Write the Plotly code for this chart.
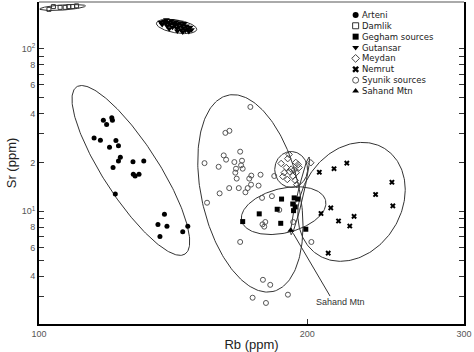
import numpy as np
import plotly.graph_objects as go

# ---------------- data (Rb ppm, Sr ppm) ----------------
arteni_rb = [118.1, 120.7, 120.9, 119.1, 115.3, 117.2, 122.0, 120.0, 122.8, 123.4, 122.8, 121.1,
             127.5, 131.1, 127.6, 128.2, 129.5, 121.8, 138.3, 136.0, 139.2, 136.7, 145.0, 146.9]
arteni_sr = [36.3, 37.7, 36.3, 34.2, 28.3, 27.4, 27.3, 24.8, 25.3, 21.5, 20.4, 18.6,
             20.2, 20.4, 16.9, 16.5, 16.9, 12.8, 9.6, 8.3, 8.1, 7.0, 7.5, 8.1]

damlik_rb = [102.6, 103.8, 105.6, 107.0, 108.0, 109.1, 110.2]
damlik_sr = [175, 182, 180, 180, 182, 182, 184]

gegham_rb = [187.2, 193.4, 195.2, 192.7, 193.9, 193.1, 185.1, 176.7, 169.3, 186.8, 199.3]
gegham_sr = [11.9, 12.1, 11.9, 11.1, 10.65, 10.1, 10.3, 9.65, 8.65, 8.44, 7.76]

gutansar_rb = [137.0, 137.5, 138.2, 138.8, 139.3, 139.8, 140.3, 140.8, 141.2, 141.6, 142.0, 142.4,
               142.8, 143.2, 143.6, 144.0, 144.4, 144.8, 145.2, 145.6, 146.0, 146.4, 146.8, 147.3,
               147.8, 148.3, 140.0, 143.0, 139.0, 145.0]
gutansar_sr = [146, 141, 148, 143, 138, 146, 141, 149, 136, 144, 139, 147,
               134, 142, 137, 145, 131, 140, 135, 143, 130, 138, 133, 128,
               136, 131, 133, 129, 151, 127]

meydan_rb = [190.9, 190.2, 194.2, 187.0, 195.4, 189.5, 191.9, 193.4, 188.5, 191.2, 194.4, 187.8,
             192.7, 190.0, 193.9, 194.7, 195.9, 201.9]
meydan_sr = [22.4, 21.1, 20.0, 19.7, 19.4, 18.6, 18.2, 18.0, 17.3, 17.5, 17.3, 16.4,
             16.5, 15.7, 15.5, 14.6, 18.6, 19.9]

nemrut_rb = [221.6, 214.4, 206.4, 249.0, 238.7, 249.6, 212.6, 225.8, 216.9, 223.3, 211.2, 207.3]
nemrut_sr = [19.8, 18.3, 17.4, 15.1, 12.7, 10.8, 10.5, 9.32, 8.72, 8.12, 5.53, 9.7]

syunik_rb = [172.7, 161.9, 163.6, 168.2, 161.2, 162.2, 153.4, 159.1, 165.7, 169.0, 166.4, 168.6,
             169.3, 166.1, 166.7, 172.2, 173.1, 177.3, 176.4, 173.0, 171.5, 170.5, 167.6, 163.5,
             159.5, 154.4, 178.0, 182.6, 186.1, 179.5, 178.2, 179.0, 192.9, 168.2, 202.2, 183.7,
             178.4, 181.8, 190.3, 173.7, 179.8]
syunik_sr = [43.9, 30.4, 31.3, 23.3, 22.1, 20.8, 19.8, 18.8, 20.1, 20.5, 18.3, 19.2,
             18.3, 17.3, 15.9, 15.9, 16.6, 16.8, 14.4, 14.6, 13.9, 13.1, 13.9, 13.9,
             12.9, 11.3, 12.1, 12.4, 10.2, 8.60, 8.32, 8.05, 8.60, 6.48, 6.48, 16.5,
             3.79, 3.53, 3.07, 2.94, 2.73]

sahand_rb = [191.7]
sahand_sr = [7.65]

# group ellipses: centre Rb, centre Sr, semi-axes (screen units), rotation (deg)
ellipse_groups = {
    "Arteni":   (126.8, 17.85, 100, 27.5, 57),
    "Damlik":   (106.3, 179.7, 23, 2.6, -4),
    "Gutansar": (142.7, 137.4, 20.5, 6.5, 9),
    "Syunik":   (172.7, 12.9, 101, 49, 77),
    "Meydan":   (191.9, 18.1, 18, 16.5, 90),
    "Gegham":   (188.2, 10.1, 43.4, 22.3, -13.7),
    "Nemrut":   (224.3, 11.44, 63, 50, -58),
    "Sahand":   (196.4, 12.45, 40, 3, 103),
}

leader_rb = [192.9, 212.2]
leader_sr = [7.33, 3.01]
label_rb, label_sr = 218.1, 2.77

y_tickvals = [3, 4, 5, 6, 7, 8, 9, 10, 20, 30, 40, 50, 60, 70, 80, 90, 100]
y_ticktext = ["", "4", "", "6", "", "8", "", "10<sup>1</sup>", "2", "", "4", "", "6", "", "8", "",
              "10<sup>2</sup>"]
x_tickvals = [100, 200, 300]
x_ticktext = ["100", "200", "300"]

legend_names = ["Arteni", "Damlik", "Gegham sources", "Gutansar", "Meydan", "Nemrut",
                "Syunik sources", "Sahand Mtn"]

# ---------------- layout geometry ----------------
W, H = 474, 352
ML, MR, MT, MB = 39, 8, 2, 27
X_RANGE = [2.0, float(np.log10(300))]
Y_RANGE = [0.3067, 2.2883]
PW, PH = W - ML - MR, H - MT - MB
KX = PW / (X_RANGE[1] - X_RANGE[0])
KY = PH / (Y_RANGE[1] - Y_RANGE[0])


def ellipse(c_rb, c_sr, a, b, th, n=240):
    t = np.linspace(0, 2 * np.pi, n)
    r = np.radians(th)
    dx = a * np.cos(t) * np.cos(r) - b * np.sin(t) * np.sin(r)
    dy = a * np.cos(t) * np.sin(r) + b * np.sin(t) * np.cos(r)
    return 10 ** (np.log10(c_rb) + dx / KX), 10 ** (np.log10(c_sr) - dy / KY)


fig = go.Figure()

ELL_COLOR = "#333333"
for name, (crb, csr, a, b, th) in ellipse_groups.items():
    ex, ey = ellipse(crb, csr, a, b, th)
    fig.add_trace(go.Scatter(x=ex, y=ey, mode="lines",
                             line=dict(color=ELL_COLOR, width=1), hoverinfo="skip",
                             showlegend=False))

fig.add_trace(go.Scatter(x=leader_rb, y=leader_sr, mode="lines",
                         line=dict(color=ELL_COLOR, width=1), showlegend=False))

styles = {
    "Arteni": dict(symbol="circle", size=5, color="black", line=dict(width=0)),
    "Damlik": dict(symbol="square-open", size=4, color="#333", line=dict(width=1)),
    "Gegham sources": dict(symbol="square", size=5, color="black", line=dict(width=0)),
    "Gutansar": dict(symbol="triangle-down", size=6, color="black", line=dict(width=0)),
    "Meydan": dict(symbol="diamond-open", size=5, color="#444", line=dict(width=1)),
    "Nemrut": dict(symbol="x", size=5, color="black", line=dict(width=0)),
    "Syunik sources": dict(symbol="circle-open", size=5, color="#555", line=dict(width=1)),
    "Sahand Mtn": dict(symbol="triangle-up", size=6, color="black", line=dict(width=0)),
}

series = [
    ("Syunik sources", syunik_rb, syunik_sr),
    ("Meydan", meydan_rb, meydan_sr),
    ("Damlik", damlik_rb, damlik_sr),
    ("Gutansar", gutansar_rb, gutansar_sr),
    ("Arteni", arteni_rb, arteni_sr),
    ("Gegham sources", gegham_rb, gegham_sr),
    ("Nemrut", nemrut_rb, nemrut_sr),
    ("Sahand Mtn", sahand_rb, sahand_sr),
]
for name, xs, ys in series:
    fig.add_trace(go.Scatter(x=xs, y=ys, mode="markers", name=name,
                             marker=styles[name], showlegend=False))

# manual legend (compact spacing) on an overlay axis
leg_y0, leg_step = 0.960, 0.0338
leg_x = 0.745
for i, name in enumerate(legend_names):
    st = dict(styles[name])
    st["size"] = 6
    fig.add_trace(go.Scatter(x=[leg_x], y=[leg_y0 - i * leg_step], mode="markers",
                             marker=st, xaxis="x2", yaxis="y2", showlegend=False,
                             hoverinfo="skip"))
    fig.add_annotation(x=leg_x + 0.011, y=leg_y0 - i * leg_step, xref="x2", yref="y2",
                       text=name, showarrow=False, xanchor="left", yanchor="middle",
                       font=dict(family="DejaVu Sans", size=8.5, color="#222"))

fig.add_annotation(x=np.log10(label_rb), y=np.log10(label_sr), xref="x", yref="y",
                   text="Sahand Mtn", showarrow=False, xanchor="center", yanchor="middle",
                   font=dict(family="Liberation Sans", size=9, color="#333"))

# top border (light gray)
fig.add_shape(type="line", xref="paper", yref="paper", x0=0, x1=1, y0=1, y1=1,
              line=dict(color="#aaaaaa", width=2))

fig.update_layout(
    width=W, height=H,
    margin=dict(l=ML, r=MR, t=MT, b=MB),
    paper_bgcolor="white", plot_bgcolor="white",
    font=dict(family="Liberation Sans", size=9, color="#555"),
    xaxis=dict(type="log", range=X_RANGE, tickvals=x_tickvals, ticktext=x_ticktext,
               ticks="inside", ticklen=5, tickwidth=1, tickcolor="#333",
               showline=True, linecolor="black", linewidth=2, mirror=False,
               showgrid=False, zeroline=False,
               title=dict(text="Rb (ppm)", font=dict(size=13, color="#222"), standoff=2),
               tickfont=dict(size=9, color="#555")),
    yaxis=dict(type="log", range=Y_RANGE, tickvals=y_tickvals, ticktext=y_ticktext,
               ticks="inside", ticklen=5, tickwidth=1, tickcolor="#333",
               showline=True, linecolor="black", linewidth=2, mirror="ticks",
               showgrid=False, zeroline=False,
               title=dict(text="Sr (ppm)", font=dict(size=13, color="#222"), standoff=2),
               tickfont=dict(size=9, color="#555")),
    xaxis2=dict(overlaying="x", range=[0, 1], visible=False, anchor="y2"),
    yaxis2=dict(overlaying="y", range=[0, 1], visible=False, anchor="x2"),
)

fig.write_html("out.html")
